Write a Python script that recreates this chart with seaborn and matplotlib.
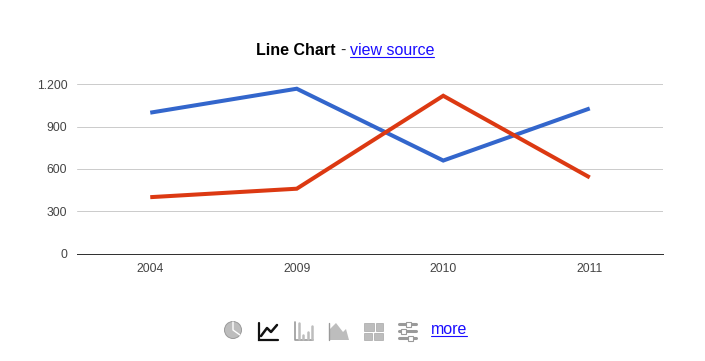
import seaborn as sns
import matplotlib.pyplot as plt
import matplotlib.patches as mp
import pandas as pd

# Values
years = ['2004', '2009', '2010', '2011']
blue_values = [1000, 1170, 660, 1030]
red_values = [400, 460, 1120, 540]
y_ticks = [0, 300, 600, 900, 1200]
y_labels = ['0', '300', '600', '900', '1.200']

df = pd.DataFrame({
    'year': years * 2,
    'value': blue_values + red_values,
    'series': ['blue'] * 4 + ['red'] * 4,
})

sns.set_style('white')
plt.rcParams['font.family'] = ['Liberation Sans', 'DejaVu Sans']

W, H = 705, 361
fig = plt.figure(figsize=(W / 100, H / 100), dpi=100)
ax = fig.add_axes([77 / W, 1 - 253.5 / H, (663 - 77) / W, (253.5 - 84.5) / H])

sns.lineplot(data=df, x='year', y='value', hue='series', sort=False, ax=ax,
             palette={'blue': '#3366cc', 'red': '#dc3912'},
             linewidth=2.9, legend=False, zorder=3)
ax.lines[0].set_solid_joinstyle('miter')
ax.lines[1].set_solid_joinstyle('miter')
ax.lines[0].set_solid_capstyle('butt')
ax.lines[1].set_solid_capstyle('butt')

ax.set_xlim(-0.5, 3.5)
ax.set_ylim(0, 1200)
ax.set_yticks(y_ticks)
ax.set_yticklabels(y_labels)
ax.set_xlabel('')
ax.set_ylabel('')
ax.tick_params(axis='both', length=0, labelsize=8.7, labelcolor='#444444')
ax.tick_params(axis='x', pad=7)
ax.tick_params(axis='y', pad=7)
ax.grid(axis='y', color='#cccccc', linewidth=0.72)
ax.grid(axis='x', visible=False)
sns.despine(ax=ax, left=True, top=True, right=True)
ax.spines['bottom'].set_color('#333333')
ax.spines['bottom'].set_linewidth(0.72)
ax.set_axisbelow(True)

# Overlay in pixel coordinates for the page text and the icon row
ov = fig.add_axes([0, 0, 1, 1], zorder=5)
ov.set_xlim(0, W)
ov.set_ylim(H, 0)
ov.axis('off')
ov.patch.set_alpha(0)

link = '#1a0dff'
ov.text(256, 55, 'Line Chart', fontsize=11.5, fontweight='bold', color='black', va='baseline')
ov.text(340.5, 55, '-', fontsize=11.5, color='#222222', va='baseline')
ov.text(350, 55, 'view source', fontsize=11.5, color=link, va='baseline')
ov.plot([350, 434], [57, 57], color=link, lw=0.8)
ov.text(431, 334, 'more', fontsize=11.5, color=link, va='baseline')
ov.plot([431, 467], [336, 336], color=link, lw=0.8)

gray = '#bdbdbd'
dark = '#9a9a9a'

# pie icon
ov.add_patch(mp.Circle((233, 330), 8.5, fc=gray, ec=dark, lw=0.7))
ov.plot([233, 233, 240], [322, 330, 335], color='white', lw=1)

# line icon (selected)
ov.plot([258.5, 258.5, 278], [323, 339.5, 339.5], color='#111111', lw=1.6, solid_joinstyle='miter')
ov.plot([261, 267, 271, 277], [336, 328, 332, 325], color='#111111', lw=1.8)

# bar icon
ov.plot([295, 295, 313], [322, 339.5, 339.5], color=dark, lw=1.2)
for bx, top in [(298.5, 323), (303, 335), (307.5, 332), (312, 326)]:
    ov.plot([bx, bx], [top, 339], color=gray, lw=1.8)

# area icon
ov.plot([328.5, 328.5], [323, 340], color=dark, lw=1)
ov.add_patch(mp.Polygon([(329, 340), (329, 330), (336, 323), (343, 332), (346, 329), (349, 340)], fc=gray, ec='none'))

# treemap icon
for rx, ry, rw, rh in [(364, 323, 10, 8), (376, 323, 7, 8), (364, 333, 8, 7), (374, 333, 9, 7)]:
    ov.add_patch(mp.Rectangle((rx, ry), rw, rh, fc=gray, ec=dark, lw=0.4))

# sliders icon
for sy, kx in [(324, 408), (331, 403), (338, 410)]:
    ov.plot([399, 416], [sy, sy], color=dark, lw=2.2)
    ov.add_patch(mp.Rectangle((kx - 2.5, sy - 2.5), 5, 5, fc='white', ec=dark, lw=0.8, zorder=4))

fig.savefig('out.png', dpi=100, facecolor='white')
